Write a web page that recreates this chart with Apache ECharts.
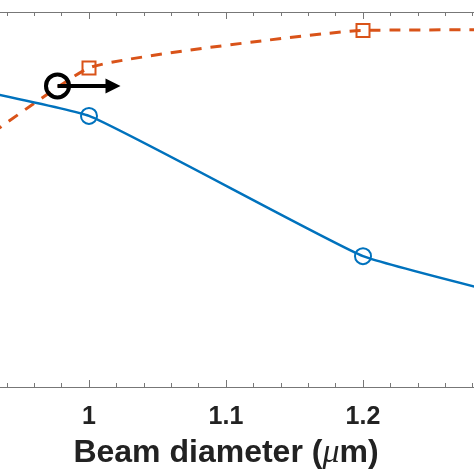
<!DOCTYPE html>
<html>
<head>
<meta charset="utf-8">
<script src="https://cdn.jsdelivr.net/npm/echarts@6/dist/echarts.min.js"></script>
<style>html,body{margin:0;padding:0;background:#fff}#c{width:474px;height:474px}</style>
</head>
<body>
<div id="c"></div>
<script>
// Data (x in µm)
const beamDiameter = [0.8, 1.0, 1.2, 1.4];
const blueSeries = [88, 72.3, 34.9, 16];      // left axis (arbitrary units, axis cropped off)
const redSeries = [33, 85.1, 95.1, 95.3];      // right axis (arbitrary units, axis cropped off)
const xTickLabels = ['1', '1.1', '1.2'];
// annotation arrow: circle marker on the red curve pointing to the right axis
const annX = [0.977, 1.0175];
const annY = [80.3, 80.3];

const BLUE = '#0072BD', RED = '#D95319', AXIS = '#777';
const zip = (xs, ys) => xs.map((x, i) => [x, ys[i]]);

const fmt = v => {
  const s = String(+(+v).toFixed(2));
  return xTickLabels.includes(s) ? s : '';
};

function xAx(pos) {
  return {
    type: 'value', min: 0.9, max: 1.3, interval: 0.1, position: pos,
    axisLine: { show: true, onZero: false, lineStyle: { color: AXIS, width: 1 } },
    axisTick: { show: true, inside: true, length: 7, lineStyle: { color: AXIS, width: 1 } },
    minorTick: { show: true, splitNumber: 5, length: 4, lineStyle: { color: AXIS, width: 1 } },
    splitLine: { show: false },
    axisLabel: pos === 'bottom' ? {
      show: true, formatter: fmt, margin: 18,
      fontFamily: 'Liberation Sans', fontWeight: 'bold', fontSize: 25, color: '#222'
    } : { show: false },
    name: pos === 'bottom' ? '{t|Beam diameter (}{mu|μ}{t|m)}' : '',
    nameLocation: 'middle', nameGap: 49,
    nameTextStyle: {
      rich: {
        t: { fontFamily: 'Liberation Sans', fontWeight: 'bold', fontSize: 32, color: '#222' },
        mu: { fontFamily: 'Liberation Serif', fontStyle: 'italic', fontWeight: 'normal', fontSize: 34, color: '#222' }
      }
    }
  };
}

const chart = echarts.init(document.getElementById('c'), null, { renderer: 'canvas' });
chart.setOption({
  animation: false,
  backgroundColor: '#fff',
  grid: { left: -48, right: -26, top: 12, bottom: 87, containLabel: false, outerBoundsMode: 'none' },
  xAxis: [xAx('bottom'), xAx('top')],
  yAxis: [
    { type: 'value', min: 0, max: 100, show: false },
    { type: 'value', min: 0, max: 100, show: false, position: 'right' }
  ],
  series: [
    {
      type: 'line', xAxisIndex: 0, yAxisIndex: 0,
      data: zip(beamDiameter, blueSeries),
      smooth: 0.1,
      symbol: 'circle', symbolSize: 16, showSymbol: true,
      lineStyle: { color: BLUE, width: 2.5 },
      itemStyle: { color: 'rgba(0,0,0,0)', borderColor: BLUE, borderWidth: 2 },
      z: 3
    },
    {
      type: 'line', xAxisIndex: 0, yAxisIndex: 1,
      data: zip(beamDiameter, redSeries),
      smooth: 0.1,
      symbol: 'rect', symbolSize: 13, showSymbol: true,
      lineStyle: { color: RED, width: 3, type: [11, 9] },
      itemStyle: { color: 'rgba(0,0,0,0)', borderColor: RED, borderWidth: 2 },
      z: 2
    },
    {
      type: 'line', xAxisIndex: 0, yAxisIndex: 1,
      data: [
        { value: [annX[0], annY[0]], symbol: 'circle', symbolSize: 23,
          itemStyle: { color: 'rgba(0,0,0,0)', borderColor: '#000', borderWidth: 4 } },
        { value: [annX[1], annY[1]], symbol: 'triangle', symbolSize: [15, 15], symbolRotate: -90,
          itemStyle: { color: '#000', borderWidth: 0 } }
      ],
      showSymbol: true,
      lineStyle: { color: '#000', width: 4 },
      z: 5
    }
  ]
});
</script>
</body>
</html>
